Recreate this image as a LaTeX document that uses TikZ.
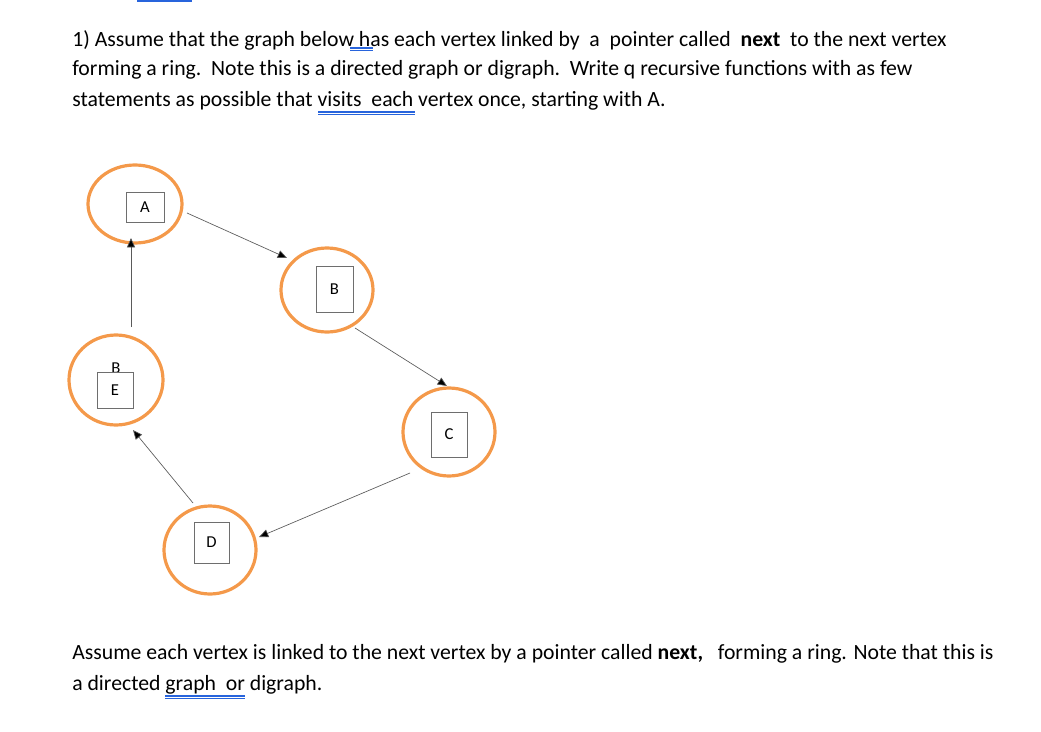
\documentclass[tikz,border=0pt]{standalone}
\usepackage{fontspec}
\setmainfont{Carlito}
\usetikzlibrary{arrows.meta}
\definecolor{ringor}{RGB}{244,153,74}
\definecolor{boxgray}{RGB}{110,110,110}
\definecolor{edgegray}{RGB}{90,90,90}
\definecolor{squigblue}{RGB}{40,100,220}
\begin{document}
\begin{tikzpicture}[x=0.75pt,y=-0.75pt,
  ring/.style={draw=ringor,line width=2.4pt},
  vbox/.style={draw=boxgray,line width=0.6pt,fill=white,inner sep=0pt,font=\fontsize{12.5}{14}\selectfont},
  edge/.style={draw=edgegray,line width=0.5pt,-{Triangle[length=7pt,width=6pt,fill=black]}},
  txt/.style={anchor=west,inner sep=0pt,font=\fontsize{16.3}{18}\selectfont},
  squig/.style={draw=squigblue,line width=1pt}]
\useasboundingbox (0,0) rectangle (1041,731);
\fill[squigblue] (137,0) rectangle (192,2);
\node[txt] (t1) at (72,40) {1) Assume that the graph below has each vertex linked by\ \ a\ \ pointer called \ \textbf{next}\ \ to the next vertex};
\node[txt] (t2) at (72,70) {forming a ring.\ \ Note this is a directed graph or digraph.\ \ Write q recursive functions with as few};
\node[txt] (t3) at (72,101) {statements as possible that visits\ \ each vertex once, starting with A.};
\draw[squig] (350,48) -- (373,48); \draw[squig] (350,50.5) -- (373,50.5);
\draw[squig] (318,112) -- (415,112); \draw[squig] (318,114.5) -- (415,114.5);
\draw[ring] (135,204) ellipse [x radius=47,y radius=39];
\draw[ring] (327,290) ellipse [x radius=46,y radius=42];
\draw[ring] (116,380) ellipse [x radius=47,y radius=45];
\draw[ring] (449,432) ellipse [x radius=46,y radius=44];
\draw[ring] (210,550) ellipse [x radius=46,y radius=44];
\node[font=\fontsize{12.5}{14}\selectfont,inner sep=0pt] (bl) at (116,368) {B};
\node[vbox,minimum width=28.5pt,minimum height=22.5pt] (A) at (145,207) {A};
\node[vbox,minimum width=27.75pt,minimum height=34.5pt] (B) at (334.5,289) {B};
\node[vbox,minimum width=27pt,minimum height=27pt] (E) at (115,390) {E};
\node[vbox,minimum width=27pt,minimum height=33.75pt] (C) at (449,434.5) {C};
\node[vbox,minimum width=26.25pt,minimum height=30.75pt] (D) at (211.5,542.5) {D};
\coordinate (a1) at (187,213); \coordinate (b0) at (287,258);
\coordinate (b1) at (355,328); \coordinate (c0) at (447,386);
\coordinate (c1) at (410,473); \coordinate (d0) at (259,537);
\coordinate (d1) at (193,503); \coordinate (e0) at (133,430);
\coordinate (e1) at (131,327); \coordinate (a0) at (131,238);
\draw[edge] (a1) -- (b0);
\draw[edge] (b1) -- (c0);
\draw[edge] (c1) -- (d0);
\draw[edge] (d1) -- (e0);
\draw[edge] (e1) -- (a0);
\node[txt] (t4) at (72,654) {Assume each vertex is linked to the next vertex by a pointer called \textbf{next,}\ \ \ forming a ring. Note that this is};
\node[txt] (t5) at (72,685) {a directed graph\ \ or digraph.};
\draw[squig] (165,696) -- (245,696); \draw[squig] (165,698.5) -- (245,698.5);
\end{tikzpicture}
\end{document}
